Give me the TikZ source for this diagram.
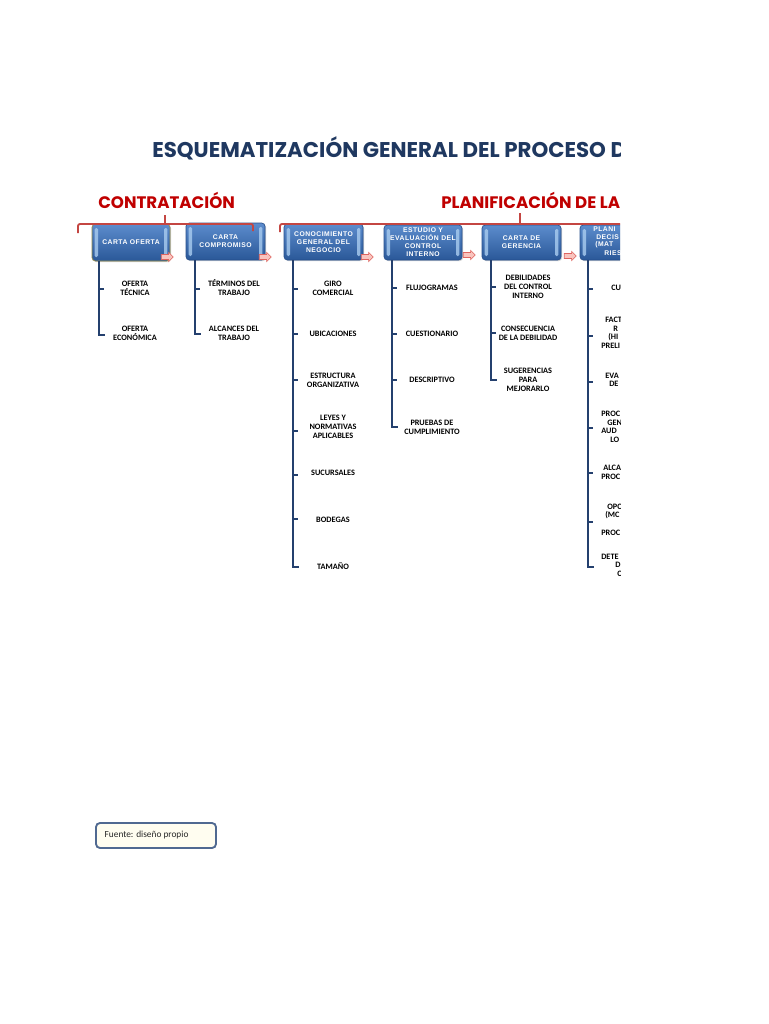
\documentclass[tikz,border=0pt]{standalone}
\usepackage{fontspec}
\setmainfont{Carlito}
\newfontfamily\titlefont{Poppins}
\newfontfamily\boxfont{Liberation Sans}[LetterSpace=7]
\usetikzlibrary{shapes.arrows,shadows}
\definecolor{titleblue}{RGB}{31,56,96}
\definecolor{headred}{RGB}{192,0,0}
\definecolor{bracered}{RGB}{196,70,66}
\definecolor{boxtop}{RGB}{92,140,205}
\definecolor{boxbot}{RGB}{42,88,152}
\definecolor{boxedge}{RGB}{40,80,140}
\definecolor{boxhl}{RGB}{170,205,240}
\definecolor{trunkblue}{RGB}{36,64,110}
\definecolor{arrowfill}{RGB}{249,196,190}
\definecolor{arrowdraw}{RGB}{222,100,95}
\definecolor{notefill}{RGB}{255,253,240}
\definecolor{noteedge}{RGB}{80,105,145}
\tikzset{
  procbox/.style={rounded corners=2.5pt, top color=boxtop, bottom color=boxbot,
    draw=boxedge, line width=0.5pt, inner sep=0pt, align=center,
    text=white, font=\boxfont\bfseries\fontsize{5.1}{6}\selectfont,
    drop shadow={shadow xshift=0.8pt, shadow yshift=-0.8pt, opacity=0.35},
    path picture={
      \fill[boxhl, rounded corners=1pt, opacity=0.8]
        ([xshift=2pt,yshift=-3pt]path picture bounding box.north west) rectangle
        ([xshift=4.5pt,yshift=3pt]path picture bounding box.south west);
      \fill[boxhl, rounded corners=1pt, opacity=0.8]
        ([xshift=-2pt,yshift=-3pt]path picture bounding box.north east) rectangle
        ([xshift=-4.5pt,yshift=3pt]path picture bounding box.south east);
    }},
  nextarrow/.style={single arrow, fill=arrowfill, draw=arrowdraw, line width=0.5pt,
    minimum height=9pt, minimum width=7pt, single arrow head extend=1.6pt, inner sep=1.6pt},
  child/.style={font=\bfseries\fontsize{6.2}{6.75}\selectfont, align=center, inner sep=0pt, text=black},
  frag/.style={font=\bfseries\fontsize{6.2}{6.75}\selectfont, anchor=west, inner sep=0pt, text=black},
  bfrag/.style={font=\boxfont\bfseries\fontsize{5.1}{6}\selectfont, anchor=west, inner sep=0pt, text=white},
  trunk/.style={draw=trunkblue, line width=2pt},
  twig/.style={draw=trunkblue, line width=1.3pt},
  brace/.style={draw=bracered, line width=1.4pt, rounded corners=1.5pt},
}
\begin{document}
\begin{tikzpicture}[x=0.75pt,y=-0.75pt]
\useasboundingbox[fill=white] (0,0) rectangle (768,1024);
\begin{scope}
\clip (0,0) rectangle (620,1024);

% title and headings
\node[anchor=west, inner sep=0pt, text=titleblue, font=\titlefont\bfseries\fontsize{16}{18}\selectfont] (title) at (152,148) {ESQUEMATIZACIÓN GENERAL DEL PROCESO D};
\node[anchor=west, inner sep=0pt, text=headred, font=\titlefont\bfseries\fontsize{12.5}{14}\selectfont] (hcontr) at (98,200) {CONTRATACIÓN};
\node[anchor=west, inner sep=0pt, text=headred, font=\titlefont\bfseries\fontsize{12.5}{14}\selectfont] (hplan) at (441,200) {PLANIFICACIÓN DE LA};

% process boxes
\node[procbox, draw={rgb,255:red,150;green,140;blue,70}, minimum width=58.5pt, minimum height=27.75pt] (B1) at (131,242.5) {CARTA OFERTA};
\node[procbox, minimum width=59.25pt, minimum height=27.75pt] (B2) at (225.5,241.5) {CARTA\\COMPROMISO};
\node[procbox, minimum width=59.25pt, minimum height=27pt] (B3) at (323.5,242) {CONOCIMIENTO\\GENERAL DEL\\NEGOCIO};
\node[procbox, minimum width=58.5pt, minimum height=26.25pt] (B4) at (423,242.5) {ESTUDIO Y\\EVALUACIÓN DEL\\CONTROL\\INTERNO};
\node[procbox, minimum width=59.25pt, minimum height=26.25pt] (B5) at (521.5,242.5) {CARTA DE\\GERENCIA};
\node[procbox, minimum width=60pt, minimum height=26.25pt] (B6) at (620,242.5) {};
\node[bfrag] (B6a) at (593,229) {PLANI};
\node[bfrag] (B6b) at (596,237) {DECIS};
\node[bfrag] (B6c) at (595,245) {(MAT};
\node[bfrag] (B6d) at (604,253) {RIES};

% small arrows
\node[nextarrow] (A1) at (166,257) {};
\node[nextarrow] (A2) at (264,257) {};
\node[nextarrow] (A3) at (366,257) {};
\node[nextarrow] (A4) at (468,255) {};
\node[nextarrow] (A5) at (569,256) {};

% braces
\coordinate (c1l) at (78,233);
\coordinate (c1r) at (253,231);
\coordinate (c1t) at (165,215);
\draw[brace] (c1l) -- (c1l |- 0,224) -- (c1r |- 0,224) -- (c1r);
\draw[brace] (c1t) -- (c1t |- 0,224);
\coordinate (c2l) at (280,232);
\coordinate (c2r) at (640,224);
\coordinate (c2t) at (520,213);
\draw[brace] (c2l) -- (c2l |- c2r) -- (c2r);
\draw[brace] (c2t) -- (c2t |- c2r);

% column 1
\node[child] (c1a) at (135,288) {OFERTA\\TÉCNICA};
\node[child] (c1b) at (135,333) {OFERTA\\ECONÓMICA};
\coordinate (k1a) at (99,289);
\coordinate (k1b) at (99,335);
\draw[trunk] (B1.south -| k1a) -- (k1b) -- ++(6,0);
\draw[twig] (k1a) -- ++(5,0);

% column 2
\node[child] (c2a) at (234,288) {TÉRMINOS DEL\\TRABAJO};
\node[child] (c2b) at (234,333) {ALCANCES DEL\\TRABAJO};
\coordinate (k2a) at (195,289);
\coordinate (k2b) at (195,334);
\draw[trunk] (B2.south -| k2a) -- (k2b) -- ++(6,0);
\draw[twig] (k2a) -- ++(5,0);

% column 3
\node[child] (c3a) at (333,288) {GIRO\\COMERCIAL};
\node[child] (c3b) at (333,334) {UBICACIONES};
\node[child] (c3c) at (333,380) {ESTRUCTURA\\ORGANIZATIVA};
\node[child] (c3d) at (333,427) {LEYES Y\\NORMATIVAS\\APLICABLES};
\node[child] (c3e) at (333,473) {SUCURSALES};
\node[child] (c3f) at (333,520) {BODEGAS};
\node[child] (c3g) at (333,566) {TAMAÑO};
\coordinate (k3a) at (293,289);
\coordinate (k3b) at (293,334);
\coordinate (k3c) at (293,380);
\coordinate (k3d) at (293,431);
\coordinate (k3e) at (293,475);
\coordinate (k3f) at (293,519);
\coordinate (k3g) at (293,567);
\draw[trunk] (B3.south -| k3a) -- (k3g) -- ++(6,0);
\foreach \k in {k3a,k3b,k3c,k3d,k3e,k3f} \draw[twig] (\k) -- ++(5,0);

% column 4
\node[child] (c4a) at (432,288) {FLUJOGRAMAS};
\node[child] (c4b) at (432,334) {CUESTIONARIO};
\node[child] (c4c) at (432,380) {DESCRIPTIVO};
\node[child] (c4d) at (432,427) {PRUEBAS DE\\CUMPLIMIENTO};
\coordinate (k4a) at (392,288);
\coordinate (k4b) at (392,334);
\coordinate (k4c) at (392,380);
\coordinate (k4d) at (392,427);
\draw[trunk] (B4.south -| k4a) -- (k4d) -- ++(6,0);
\foreach \k in {k4a,k4b,k4c} \draw[twig] (\k) -- ++(5,0);

% column 5
\node[child] (c5a) at (528,287) {DEBILIDADES\\DEL CONTROL\\INTERNO};
\node[child] (c5b) at (528,333) {CONSECUENCIA\\DE LA DEBILIDAD};
\node[child] (c5c) at (528,380) {SUGERENCIAS\\PARA\\MEJORARLO};
\coordinate (k5a) at (491,287);
\coordinate (k5b) at (491,333);
\coordinate (k5c) at (491,380);
\draw[trunk] (B5.south -| k5a) -- (k5c) -- ++(6,0);
\foreach \k in {k5a,k5b} \draw[twig] (\k) -- ++(5,0);

% column 6 (cut at the right edge)
\node[frag] (f1) at (611,288) {CU};
\node[frag] (f2a) at (605,320) {FACT};
\node[frag] (f2b) at (613,329) {R};
\node[frag] (f2c) at (608,337) {(HI};
\node[frag] (f2d) at (601,346) {PRELI};
\node[frag] (f3a) at (605,376) {EVA};
\node[frag] (f3b) at (609,384) {DE};
\node[frag] (f4a) at (601,414) {PROC};
\node[frag] (f4b) at (607,423) {GEN};
\node[frag] (f4c) at (601,431) {AUD};
\node[frag] (f4d) at (610,440) {LO};
\node[frag] (f5a) at (603,468) {ALCA};
\node[frag] (f5b) at (601,477) {PROC};
\node[frag] (f6a) at (607,507) {OPC};
\node[frag] (f6b) at (605,515) {(MC};
\node[frag] (f6c) at (601,533) {PROC};
\node[frag] (f7a) at (601,557) {DETE};
\node[frag] (f7b) at (615,565) {D};
\node[frag] (f7c) at (617,574) {C};
\coordinate (k6a) at (588,289);
\coordinate (k6b) at (588,336);
\coordinate (k6c) at (588,382);
\coordinate (k6d) at (588,428);
\coordinate (k6e) at (588,473);
\coordinate (k6f) at (588,522);
\coordinate (k6g) at (588,567);
\draw[trunk] (B6.south -| k6a) -- (k6g) -- ++(6,0);
\foreach \k in {k6a,k6b,k6c,k6d,k6e,k6f} \draw[twig] (\k) -- ++(5,0);
\end{scope}

% source note
\node[draw=noteedge, fill=notefill, line width=1.4pt, rounded corners=3pt,
  minimum width=90pt, minimum height=18.75pt, inner sep=0pt] (note) at (156,835.5) {};
\node[anchor=west, inner sep=0pt, font=\fontsize{7}{8}\selectfont, text=black!85] (notetext) at (note.west) [xshift=7pt, yshift=0pt] {Fuente: diseño propio};
\end{tikzpicture}
\end{document}
